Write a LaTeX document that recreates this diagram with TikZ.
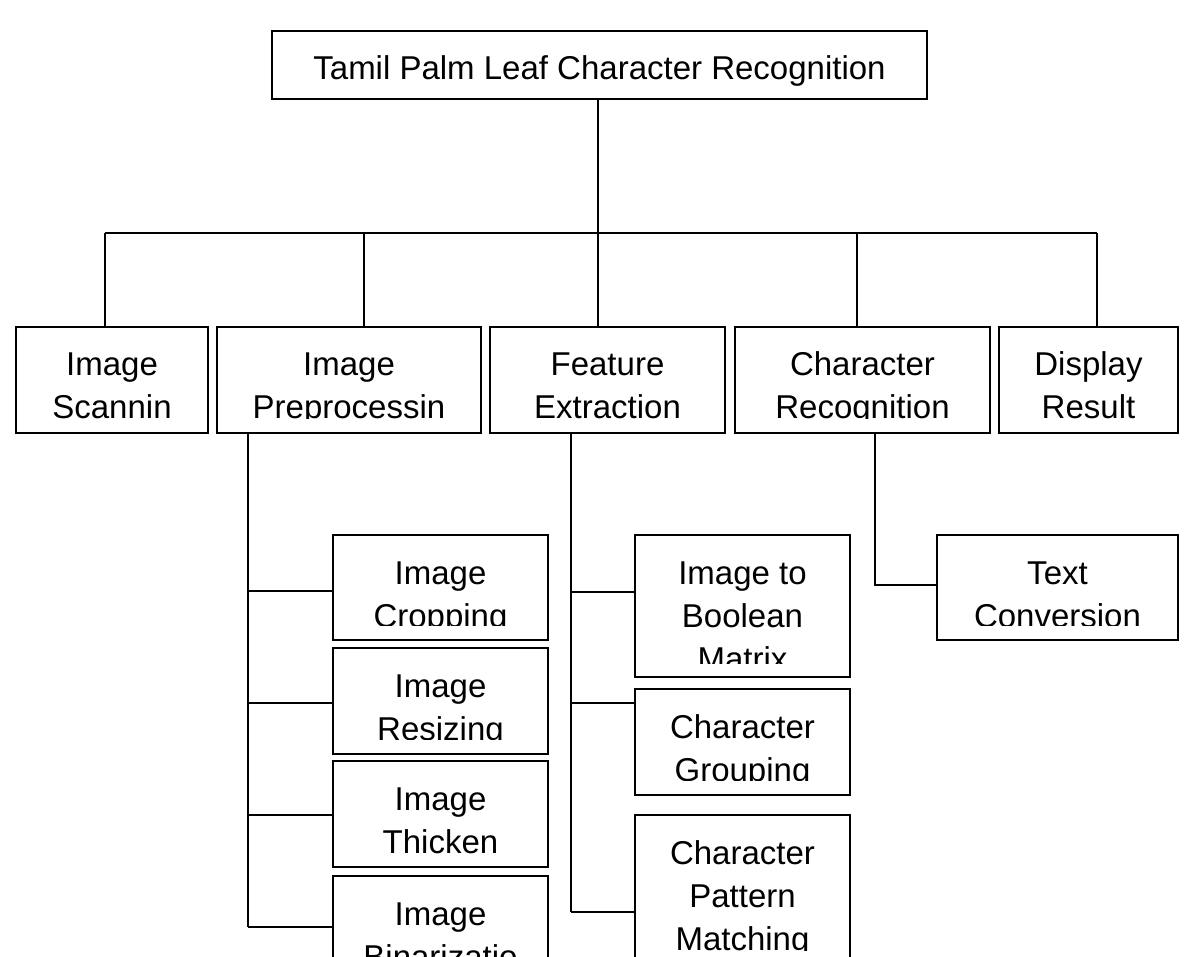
\documentclass[tikz,border=0pt]{standalone}
\usepackage{fontspec}
\setmainfont{Liberation Sans}
\newcommand{\bxx}[7]{% name x1 y1 x2 y2 clipbottom lines
  \node[draw,line width=1.8pt,minimum width={(#4-#2)*1pt},minimum height={(#5-#3)*1pt},inner sep=0pt] (#1) at ({(#2+#4)/2},{(#3+#5)/2}) {};
  \begin{scope}
    \clip (#2,#3) rectangle (#4,#6);
    \foreach \t [count=\i] in {#7} {
      \node[anchor=base,inner sep=0pt] at ({(#2+#4)/2},{#3+6+43*\i}) {\t};
    }
  \end{scope}}
\begin{document}
\begin{tikzpicture}[x=1pt,y=-1pt,line width=1.8pt,font=\fontsize{33}{38}\selectfont]
\useasboundingbox[fill=white] (0,0) rectangle (1187,957);
\bxx{top}{272}{31}{927}{99}{99}{Tamil Palm Leaf Character Recognition}
\bxx{scan}{16}{327}{208}{433}{419}{Image,Scannin}
\bxx{pre}{217}{327}{481}{433}{419}{Image,Preprocessin}
\bxx{feat}{490}{327}{725}{433}{419}{Feature,Extraction}
\bxx{rec}{735}{327}{990}{433}{419}{Character,Recognition}
\bxx{disp}{999}{327}{1178}{433}{419}{Display,Result}
\bxx{crop}{333}{535}{548}{640}{625}{Image,Cropping}
\bxx{resz}{333}{648}{548}{754}{739}{Image,Resizing}
\bxx{thick}{333}{761}{548}{867}{858}{Image,Thicken}
\bxx{bin}{333}{876}{548}{990}{957}{Image,Binarizatio}
\bxx{bool}{635}{535}{850}{677}{663}{Image to,Boolean,Matrix}
\bxx{grp}{635}{689}{850}{795}{780}{Character,Grouping}
\bxx{pat}{635}{815}{850}{990}{950}{Character,Pattern,Matching}
\bxx{txt}{937}{535}{1178}{640}{625}{Text,Conversion}
% main tree
\coordinate (bus) at (598,233);
\draw (598,99) -- (bus);
\draw (105,233) -- (1097,233);
\draw (105,233) -- (105,327);
\draw (364,233) -- (364,327);
\draw (598,233) -- (598,327);
\draw (857,233) -- (857,327);
\draw (1097,233) -- (1097,327);
% preprocessing
\draw (248,433) -- (248,927);
\draw (248,591) -- (crop.west|-0,591);
\draw (248,703) -- (resz.west|-0,703);
\draw (248,815) -- (thick.west|-0,815);
\draw (248,927) -- (bin.west|-0,927);
% feature
\draw (571,433) -- (571,912);
\draw (571,592) -- (bool.west|-0,592);
\draw (571,703) -- (grp.west|-0,703);
\draw (571,912) -- (pat.west|-0,912);
% recognition
\draw (875,433) -- (875,585) -- (txt.west|-0,585);
\end{tikzpicture}
\end{document}
